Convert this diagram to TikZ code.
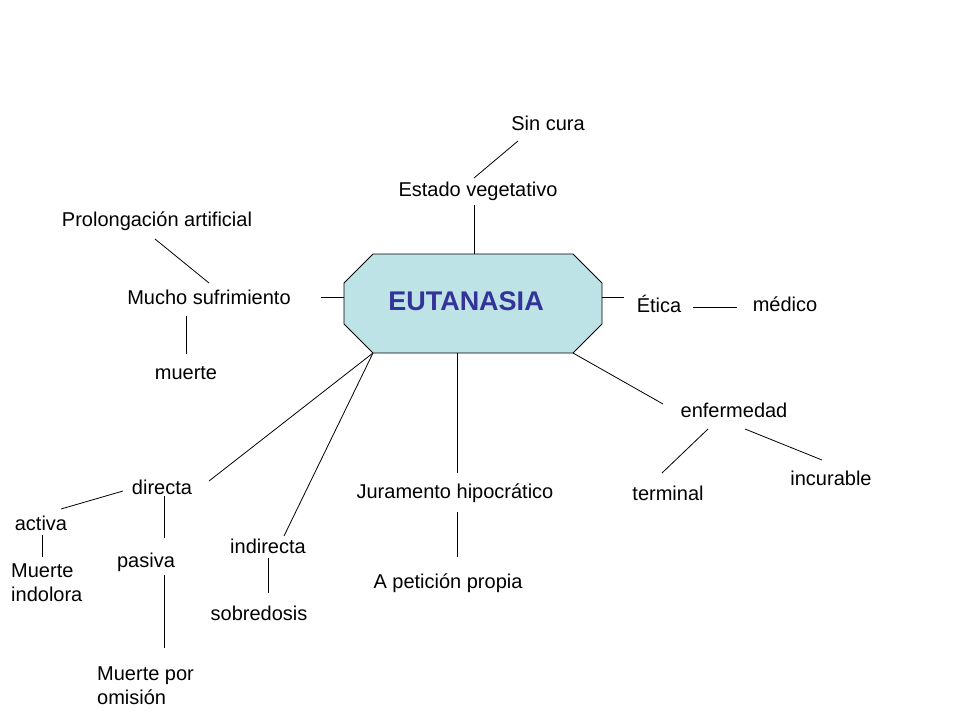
\documentclass[tikz,border=0pt]{standalone}
\usepackage{fontspec}
\setmainfont{Liberation Sans}
\begin{document}
\begin{tikzpicture}[x=1pt,y=-1pt,
  lbl/.style={inner sep=0pt,font=\fontsize{20}{24}\selectfont},
  ln/.style={draw=black,line width=0.8pt}]
\useasboundingbox (0,0) rectangle (960,720);
\definecolor{oct}{HTML}{BDE3E6}
\definecolor{tit}{HTML}{333399}
\filldraw[fill=oct,draw=black,line width=0.8pt] (373,254)--(573,254)--(602,283)--(602,324)--(573,353)--(373,353)--(344,324)--(344,283)--cycle;
\node[lbl,font=\fontsize{27}{30}\selectfont\bfseries,text=tit] (eut) at (466,301) {EUTANASIA};
\node[lbl] (sc) at (548,123) {Sin cura};
\node[lbl] (ev) at (478,191) {Estado vegetativo};
\node[lbl] (pa) at (157,221) {Prolongación artificial};
\node[lbl] (ms) at (209,297) {Mucho sufrimiento};
\node[lbl] (mu) at (186,373) {muerte};
\node[lbl] (et) at (659,304) {Ética};
\node[lbl] (me) at (785,304) {médico};
\node[lbl] (en) at (734,410) {enfermedad};
\node[lbl] (te) at (668,493) {terminal};
\node[lbl] (in) at (831,478) {incurable};
\node[lbl] (jh) at (455,493) {Juramento hipocrático};
\node[lbl] (ap) at (448,583) {A petición propia};
\node[lbl] (di) at (162,487) {directa};
\node[lbl] (ac) at (41,523) {activa};
\node[lbl,anchor=west,align=left] (mi) at (11,583) {Muerte\\indolora};
\node[lbl] (ps) at (146,562) {pasiva};
\node[lbl,anchor=west,align=left] (mo) at (97,686) {Muerte por\\omisión};
\node[lbl] (id) at (268,546) {indirecta};
\node[lbl] (so) at (259,613) {sobredosis};
\foreach \n/\xa/\ya/\xb/\yb in {a1/518/141/474/178, a2/474/205/474/254, a3/155/239/209/283,
  a4/321/297/344/297, a5/186/316/186/354, a6/602/297/624/297, a7/693/307/737/307,
  a8/573/353/663/404, a9/708/429/662/473, b1/745/429/822/460, b2/457/353/457/473,
  b3/457/512/457/557, b4/373/353/209/481, b5/373/353/284/536, b6/123/491/61/509,
  b7/164/496/164/538, b8/42/535/42/557, b9/164/575/164/648, c1/268/558/268/593}{
  \coordinate (\n s) at (\xa,\ya); \coordinate (\n e) at (\xb,\yb);
  \draw[ln] (\n s)--(\n e);}
\end{tikzpicture}
\end{document}
